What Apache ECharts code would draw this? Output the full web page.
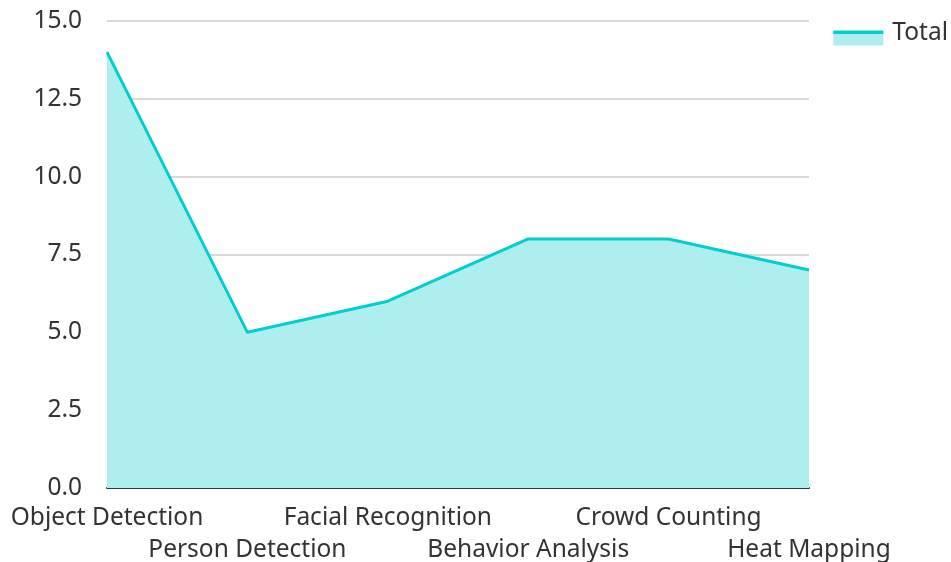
<!DOCTYPE html>
<html>
<head>
<meta charset="utf-8">
<script src="https://cdn.jsdelivr.net/npm/echarts@6/dist/echarts.min.js"></script>
<style>
  html, body { margin: 0; padding: 0; background: #fff; }
  #main { width: 951px; height: 562px; }
</style>
</head>
<body>
<div id="main"></div>
<script>
const categories = ['Object Detection', 'Person Detection', 'Facial Recognition', 'Behavior Analysis', 'Crowd Counting', 'Heat Mapping'];
const totals = [14, 5, 6, 8, 8, 7];

const font = 'Noto Sans';
const fs = 24.5;
const chart = echarts.init(document.getElementById('main'));
chart.setOption({
  animation: false,
  textStyle: { fontFamily: font },
  legend: {
    right: 3,
    top: 21,
    padding: 0,
    // invisible point at the top keeps the box taller so the swatch sits low
    icon: 'path://M0,0 L0.1,0 Z M0,9 H50 V24 H0 Z',
    itemWidth: 50,
    itemHeight: 24,
    textStyle: { fontSize: fs, color: '#333', fontFamily: font, padding: [0, 0, 0, 4] },
    data: [{
      name: 'Total',
      itemStyle: {
        color: {
          type: 'linear', x: 0, y: 0, x2: 0, y2: 1,
          colorStops: [
            { offset: 0, color: '#00CED1' },
            { offset: 0.52, color: '#00CED1' },
            { offset: 0.52, color: '#AFEEEE' },
            { offset: 1, color: '#AFEEEE' }
          ]
        }
      }
    }]
  },
  grid: { left: 107, right: 142, top: 21, bottom: 74, outerBoundsMode: 'none' },
  xAxis: {
    type: 'category',
    data: categories,
    boundaryGap: false,
    axisTick: { show: false },
    axisLine: { lineStyle: { color: '#333', width: 2 } },
    axisLabel: {
      interval: 0,
      fontSize: fs,
      color: '#333',
      lineHeight: 32,
      margin: 14,
      formatter: (v, i) => (i % 2 === 1 ? '\n' + v : v)
    }
  },
  yAxis: {
    type: 'value',
    min: 0,
    max: 15,
    interval: 2.5,
    axisLabel: {
      fontSize: fs,
      color: '#333',
      margin: 25,
      formatter: v => v.toFixed(1)
    },
    splitLine: { lineStyle: { color: '#ccc', width: 1.5 } }
  },
  series: [{
    name: 'Total',
    type: 'line',
    data: totals,
    symbol: 'none',
    lineStyle: { color: '#00CED1', width: 3 },
    itemStyle: { color: '#00CED1' },
    areaStyle: { color: '#AFEEEE', opacity: 1 }
  }]
});
</script>
</body>
</html>
